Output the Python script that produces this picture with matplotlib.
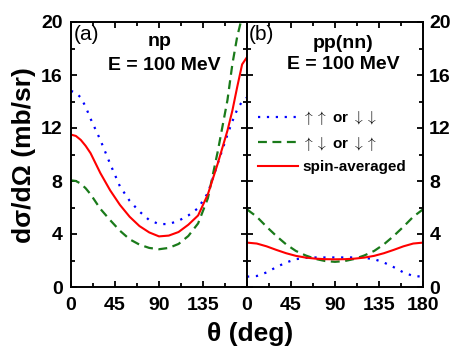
import numpy as np
import matplotlib
matplotlib.use('Agg')
import matplotlib.pyplot as plt
from matplotlib.ticker import MultipleLocator

plt.rcParams['font.family'] = ['Liberation Sans', 'DejaVu Sans']
plt.rcParams['font.weight'] = 'bold'
plt.rcParams['mathtext.fontset'] = 'cm'

# panel (a): np, E = 100 MeV
theta_a = [0, 5, 10, 15, 20, 25, 30, 40, 50, 60, 70, 80, 90, 100, 110, 120, 130, 140, 150, 160, 165, 170,
           175, 180]
np_same = [14.8, 14.65, 14.3, 13.6, 12.7, 11.9, 11.1, 9.3, 7.6, 6.5, 5.7, 5.05, 4.75, 4.75, 5.0, 5.4, 5.95,
           7.1, 9.3, 11.5, 12.5, 13.4, 14.0, 14.3]
np_opp = [8.05, 8.0, 7.8, 7.45, 7.0, 6.45, 5.9, 5.05, 4.25, 3.6, 3.2, 2.95, 2.85, 2.95, 3.25, 3.85, 4.8,
          6.7, 10.2, 14.1, 16.8, 18.9, 20.4, 21.6]
np_avg = [11.5, 11.4, 11.1, 10.65, 10.1, 9.35, 8.6, 7.3, 6.2, 5.3, 4.6, 4.12, 3.82, 3.88, 4.15, 4.7, 5.4,
          7.0, 9.3, 11.8, 13.3, 15.1, 16.8, 17.35]

# panel (b): pp(nn), E = 100 MeV
theta_b = [0, 10, 20, 30, 40, 50, 60, 70, 80, 90, 100, 110, 120, 130, 140, 150, 160, 170, 180]
pp_same = [0.78, 0.83, 1.1, 1.5, 1.85, 2.1, 2.2, 2.23, 2.23, 2.23, 2.23, 2.23, 2.2, 2.1, 1.85, 1.5, 1.1,
           0.83, 0.78]
pp_opp = [5.86, 5.3, 4.55, 3.85, 3.22, 2.72, 2.38, 2.12, 1.96, 1.9, 1.96, 2.12, 2.38, 2.72, 3.22, 3.85,
          4.55, 5.3, 5.86]
pp_avg = [3.35, 3.28, 3.07, 2.8, 2.55, 2.35, 2.22, 2.14, 2.1, 2.09, 2.1, 2.14, 2.22, 2.35, 2.55, 2.8,
          3.07, 3.28, 3.35]

labels = [r'$\uparrow\uparrow$ or $\downarrow\downarrow$',
          r'$\uparrow\downarrow$ or $\downarrow\uparrow$',
          'spin-averaged']
xticks = [0, 45, 90, 135, 180]

fig = plt.figure(figsize=(4.74, 3.55), dpi=100)
ax1 = fig.add_axes([71 / 474, 1 - 287 / 355, 176 / 474, 265 / 355])
ax2 = fig.add_axes([247 / 474, 1 - 287 / 355, 176 / 474, 265 / 355])

dot = (0, (1, 3))
dash = (0, (4, 2.5))
for ax, th, s, o, a in [(ax1, theta_a, np_same, np_opp, np_avg), (ax2, theta_b, pp_same, pp_opp, pp_avg)]:
    ax.plot(th, s, color='#0000ff', lw=1.6, linestyle=dot, label=labels[0])
    ax.plot(th, o, color='#1a7a1a', lw=1.6, linestyle=dash, label=labels[1])
    ax.plot(th, a, color='#ff0000', lw=1.5, label=labels[2])
    ax.set_xlim(0, 180)
    ax.set_ylim(0, 20)
    ax.set_xticks(xticks)
    ax.xaxis.set_minor_locator(MultipleLocator(22.5))
    ax.set_yticks([0, 4, 8, 12, 16, 20])
    ax.yaxis.set_minor_locator(MultipleLocator(2))
    ax.tick_params(which='both', direction='in', top=True, right=True, width=1.3, labelsize=14)
    ax.tick_params(which='major', length=4.5)
    ax.tick_params(which='minor', length=3)
    ax.tick_params(axis='x', pad=7)
    for sp in ax.spines.values():
        sp.set_linewidth(1.4)

ax1.set_xticklabels(['0', '45', '90', '135', ''])
ax1.tick_params(axis='y', pad=6)
ax2.tick_params(axis='y', labelleft=False, labelright=True, pad=4.5)

ax1.text(0.017, 0.951, '(a)', transform=ax1.transAxes, fontsize=15, fontweight='normal', va='center', ha='left')
ax1.text(0.506, 0.925, 'np', transform=ax1.transAxes, fontsize=14, ha='center', va='center')
ax1.text(0.53, 0.834, 'E = 100 MeV', transform=ax1.transAxes, fontsize=14, ha='center', va='center')
ax2.text(0.011, 0.951, '(b)', transform=ax2.transAxes, fontsize=15, fontweight='normal', va='center', ha='left')
ax2.text(0.545, 0.92, 'pp(nn)', transform=ax2.transAxes, fontsize=14, ha='center', va='center')
ax2.text(0.545, 0.838, 'E = 100 MeV', transform=ax2.transAxes, fontsize=14, ha='center', va='center')

ax2.legend(loc='upper left', bbox_to_anchor=(0.0625, 0.672), frameon=False, fontsize=11,
           handlelength=2.6, handletextpad=0.3, borderpad=0, borderaxespad=0, labelspacing=0.5)

fig.text(250 / 474, 1 - 334.5 / 355, 'θ (deg)', fontsize=19, ha='center', va='center')
fig.text(24 / 474, 1 - 155 / 355, 'dσ/dΩ (mb/sr)', fontsize=19, rotation=90, ha='center', va='center')

fig.savefig('out.png', dpi=100)
